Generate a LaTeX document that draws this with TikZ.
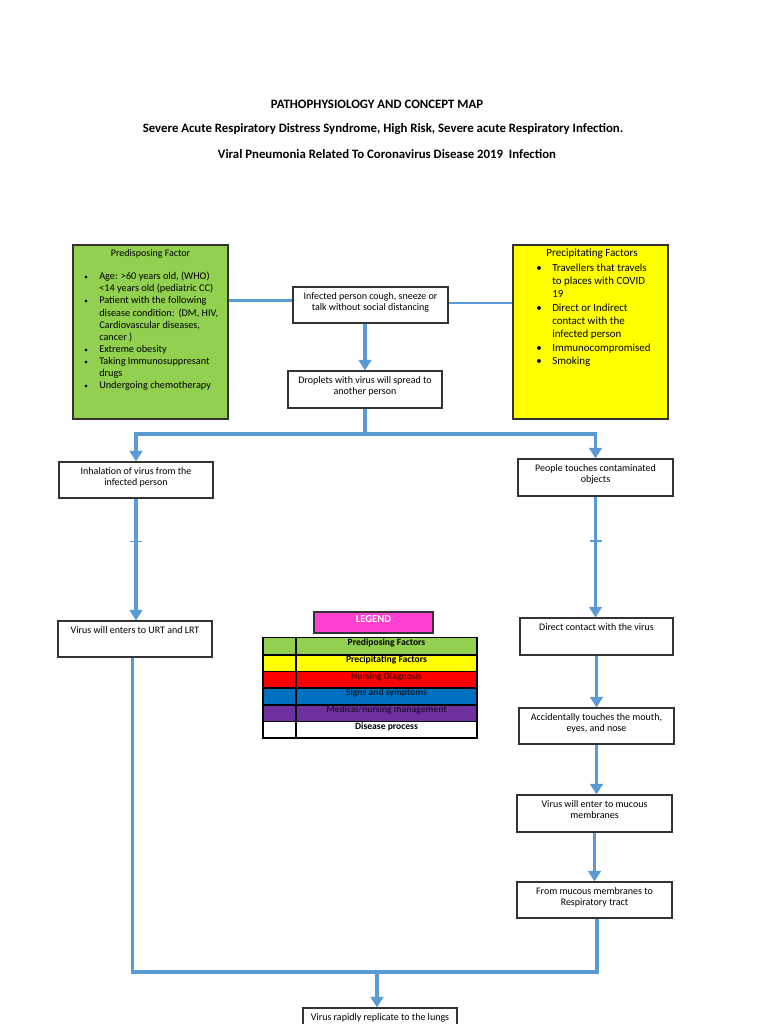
\documentclass[tikz,border=0pt]{standalone}
\usepackage{fontspec}
\setmainfont{Carlito}
\usetikzlibrary{arrows.meta,fit,calc}
\definecolor{conn}{HTML}{5B9BD5}
\definecolor{pgreen}{HTML}{92D050}
\definecolor{pyellow}{HTML}{FFFF00}
\definecolor{pred}{HTML}{FF0000}
\definecolor{pblue}{HTML}{0070C0}
\definecolor{ppurple}{HTML}{7030A0}
\definecolor{pmagenta}{HTML}{FF3FCF}
\definecolor{edge}{HTML}{333333}
\begin{document}
\begin{tikzpicture}[x=0.75pt,y=-0.75pt,
  frame/.style={draw=edge, line width=0.8pt, inner sep=0pt, fill=white},
  txt/.style={inner sep=0pt, anchor=north, align=center, font=\fontsize{7.5}{8.4}\selectfont},
  flow/.style={draw=conn, line width=2.5pt},
  arr/.style={flow, -{Triangle[width=9.5pt,length=8pt]}},
  thinlink/.style={draw=conn, line width=1.6pt},
  tickmark/.style={draw=conn, line width=1.3pt},
  ttl/.style={inner sep=0pt, anchor=base, font=\fontsize{9.6}{11}\selectfont\bfseries},
  lgcell/.style={draw=black, line width=0.8pt, inner sep=0pt, font=\fontsize{7.2}{8}\selectfont\bfseries},
  listtxt/.style={inner sep=0pt, anchor=north west, align=left},
]
\useasboundingbox (0,0) rectangle (768,1024);

% titles
\node[ttl] (h1) at (377,108.6) {PATHOPHYSIOLOGY AND CONCEPT MAP};
\node[ttl] (h2) at (383,132.6) {Severe Acute Respiratory Distress Syndrome, High Risk, Severe acute Respiratory Infection.};
\node[ttl] (h3) at (387,158.6) {Viral Pneumonia Related To Coronavirus Disease 2019\ \ Infection};

% predisposing
\node[frame, fill=pgreen, fit={(73,245)(228,419)}] (pre) {};
\node[txt] (pret) at (150.5,249.5) {Predisposing Factor};
\node[listtxt, font=\fontsize{7.7}{9.1}\selectfont] (prel) at (84,270.9) {\begin{tabular}{@{}p{11.25pt}@{}l@{}}
\scalebox{0.7}{\textbullet} & Age: >60 years old, (WHO)\\
 & <14 years old (pediatric CC)\\
\scalebox{0.7}{\textbullet} & Patient with the following\\
 & disease condition:\hspace{3pt}(DM, HIV,\\
 & Cardiovascular diseases,\\
 & cancer )\\
\scalebox{0.7}{\textbullet} & Extreme obesity\\
\scalebox{0.7}{\textbullet} & Taking Immunosuppresant\\
 & drugs\\
\scalebox{0.7}{\textbullet} & Undergoing chemotherapy
\end{tabular}};

% precipitating
\node[frame, fill=pyellow, fit={(513,245)(668,419)}] (prc) {};
\node[txt, font=\fontsize{8.3}{9}\selectfont] (prct) at (592,249) {Precipitating Factors};
\node[listtxt, font=\fontsize{8.2}{10}\selectfont] (prcl) at (536,261.5) {\begin{tabular}{@{}p{12pt}@{}l@{}}
\textbullet & Travellers that travels\\
 & to places with COVID\\
 & 19\\
\textbullet & Direct or Indirect\\
 & contact with the\\
 & infected person\\
\textbullet & Immunocompromised\\
\textbullet & Smoking
\end{tabular}};

% flow boxes
\node[frame, fit={(293,287)(448,323)}] (b1) {};
\node[txt, yshift=-4.5pt] (t1) at (b1.north) {Infected person cough, sneeze or\\talk without social distancing};
\node[frame, fit={(288,371)(442,408)}] (b2) {};
\node[txt, yshift=-4.5pt] (t2) at (b2.north) {Droplets with virus will spread to\\another person};
\node[frame, fit={(59,462)(213,498)}] (b3) {};
\node[txt, yshift=-4.5pt] (t3) at (b3.north) {Inhalation of virus from the\\infected person};
\node[frame, fit={(518,459)(673,496)}] (b4) {};
\node[txt, yshift=-4.5pt] (t4) at (b4.north) {People touches contaminated\\objects};
\node[frame, fit={(58,621)(212,657)}] (b5) {};
\node[txt, yshift=-4.5pt] (t5) at (b5.north) {Virus will enters to URT and LRT};
\node[frame, fit={(520,618)(673,655)}] (b6) {};
\node[txt, yshift=-4.5pt] (t6) at (b6.north) {Direct contact with the virus};
\node[frame, fit={(519,708)(674,744)}] (b7) {};
\node[txt, yshift=-4.5pt] (t7) at (b7.north) {Accidentally touches the mouth,\\eyes, and nose};
\node[frame, fit={(517,795)(672,832)}] (b8) {};
\node[txt, yshift=-4.5pt] (t8) at (b8.north) {Virus will enter to mucous\\membranes};
\node[frame, fit={(517,882)(672,918)}] (b9) {};
\node[txt, yshift=-4.5pt] (t9) at (b9.north) {From mucous membranes to\\Respiratory tract};
\node[frame, fit={(303,1008)(457,1040)}] (b10) {};
\node[txt, yshift=-4.5pt] (t10) at (b10.north) {Virus rapidly replicate to the lungs};

% connectors
\draw[thinlink, line width=1.8pt] (b1.west |- 0,300.5) -- (pre.east |- 0,300.5);
\draw[thinlink, line width=1.3pt] (b1.east |- 0,303) -- (prc.west |- 0,303);
\draw[arr] (b1.south -| b2.north) -- (b2.north);
\coordinate (sp) at (365,434);
\draw[flow] (b2.south) -- (sp);
\draw[arr] (sp) -| (b3.north);
\draw[arr] (sp) -| (b4.north);
\draw[arr] (b3.south) -- (b3.south |- b5.north);
\coordinate (tk1) at (136,541.5);
\draw[tickmark] ([xshift=-4.5pt]tk1) -- ([xshift=4.5pt]tk1);
\draw[arr] (b4.south) -- (b4.south |- b6.north);
\coordinate (tk2) at (595.5,541);
\draw[tickmark] ([xshift=-4.5pt]tk2) -- ([xshift=4.5pt]tk2);
\draw[arr] (b6.south) -- (b6.south |- b7.north);
\draw[arr] (b7.south) -- (b7.south |- b8.north);
\draw[arr] (b8.south) -- (b8.south |- b9.north);
\coordinate (lc) at (132.5,972);
\coordinate (rc) at (597,972);
\coordinate (jn) at (377,972);
\draw[flow] (b5.south -| lc) -- (lc) -- (rc) -- (b9.south -| rc);
\draw[arr] (jn) -- (jn |- b10.north);

% legend
\node[lgcell, draw=edge, fill=pmagenta, text=white, font=\fontsize{8}{9}\selectfont\bfseries, fit={(314,612)(433,633)}] (lgh) {LEGEND};
\node[lgcell, fill=pgreen, fit={(263,637.3)(296,655)}] (s1) {};
\node[lgcell, fill=pgreen, fit={(296,637.3)(477,655)}] (l1) {Prediposing Factors};
\node[lgcell, fill=pyellow, fit={(263,655)(296,671.7)}] (s2) {};
\node[lgcell, fill=pyellow, fit={(296,655)(477,671.7)}] (l2) {Precipitating Factors};
\node[lgcell, fill=pred, fit={(263,671.7)(296,688)}] (s3) {};
\node[lgcell, fill=pred, text=black!60!red, fit={(296,671.7)(477,688)}] (l3) {Nursing Diagnosis};
\node[lgcell, fill=pblue, fit={(263,688)(296,705)}] (s4) {};
\node[lgcell, fill=pblue, text=black!70!pblue, fit={(296,688)(477,705)}] (l4) {Signs and symptoms};
\node[lgcell, fill=ppurple, fit={(263,705)(296,721.7)}] (s5) {};
\node[lgcell, fill=ppurple, text=black!65!ppurple, fit={(296,705)(477,721.7)}] (l5) {Medical/nursing management};
\node[lgcell, fill=white, fit={(263,721.7)(296,738)}] (s6) {};
\node[lgcell, fill=white, fit={(296,721.7)(477,738)}] (l6) {Disease process};
\end{tikzpicture}
\end{document}
